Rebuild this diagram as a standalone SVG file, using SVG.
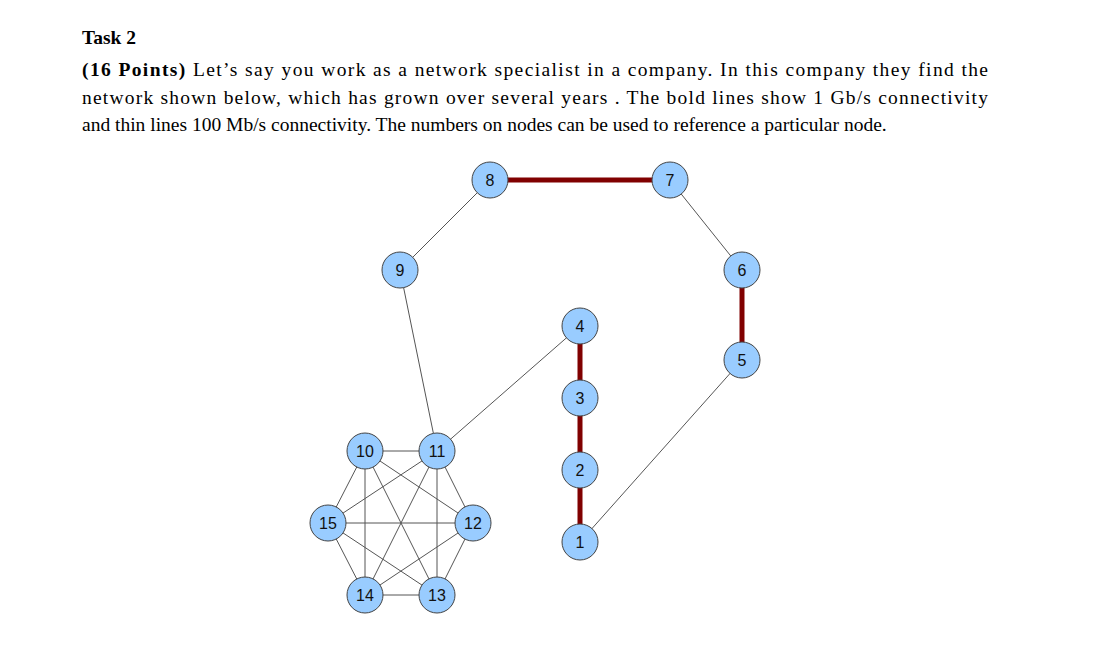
<svg xmlns="http://www.w3.org/2000/svg" width="1093" height="656" viewBox="0 0 1093 656">
<style>
.t{font-family:"Liberation Serif",serif;font-size:19.5px;fill:#000}
.n circle{fill:#99ccff;stroke:#444;stroke-width:1}
.n text{font-family:"Liberation Sans",Arial,sans-serif;font-size:16px;text-anchor:middle;dominant-baseline:central;fill:#111}
.thin{stroke:#555;stroke-width:1;fill:none}
.bold{stroke:#800000;stroke-width:5;fill:none}
</style>
<rect width="1093" height="656" fill="#fff"/>
<text class="t" x="82" y="44" font-weight="bold" font-size="21px">Task 2</text>
<text class="t" x="82" y="76" textLength="906" lengthAdjust="spacing"><tspan font-weight="bold">(16 Points)</tspan> Let’s say you work as a network specialist in a company.  In this company they find the</text>
<text class="t" x="82" y="104" textLength="906" lengthAdjust="spacing">network shown below, which has grown over several years .  The bold lines show 1 Gb/s connectivity</text>
<text class="t" x="82" y="131">and thin lines 100 Mb/s connectivity. The numbers on nodes can be used to reference a particular node.</text>
<g id="connectors">
<line class="thin" x1="490" y1="180" x2="400" y2="270"/>
<line class="thin" x1="400" y1="270" x2="437" y2="451"/>
<line class="thin" x1="437" y1="451" x2="580" y2="326"/>
<line class="thin" x1="670" y1="180" x2="742" y2="270"/>
<line class="thin" x1="580" y1="542" x2="742" y2="360"/>
<line class="bold" x1="490" y1="180" x2="670" y2="180"/>
<line class="bold" x1="742" y1="270" x2="742" y2="360"/>
<line class="bold" x1="580" y1="326" x2="580" y2="542"/>
<line class="thin" x1="365" y1="451" x2="437" y2="451"/>
<line class="thin" x1="437" y1="451" x2="473" y2="523"/>
<line class="thin" x1="473" y1="523" x2="437" y2="595"/>
<line class="thin" x1="437" y1="595" x2="365" y2="595"/>
<line class="thin" x1="365" y1="595" x2="328" y2="523"/>
<line class="thin" x1="328" y1="523" x2="365" y2="451"/>
<line class="thin" x1="365" y1="451" x2="365" y2="595"/>
<line class="thin" x1="437" y1="451" x2="437" y2="595"/>
<line class="thin" x1="328" y1="523" x2="473" y2="523"/>
<line class="thin" x1="365" y1="451" x2="473" y2="523"/>
<line class="thin" x1="365" y1="451" x2="437" y2="595"/>
<line class="thin" x1="437" y1="451" x2="328" y2="523"/>
<line class="thin" x1="437" y1="451" x2="365" y2="595"/>
<line class="thin" x1="328" y1="523" x2="437" y2="595"/>
<line class="thin" x1="365" y1="595" x2="473" y2="523"/>
</g>
<g id="n8" class="n"><circle cx="490" cy="180" r="18"/><text x="490" y="180">8</text></g>
<g id="n7" class="n"><circle cx="670" cy="180" r="18"/><text x="670" y="180">7</text></g>
<g id="n9" class="n"><circle cx="400" cy="270" r="18"/><text x="400" y="270">9</text></g>
<g id="n6" class="n"><circle cx="742" cy="270" r="18"/><text x="742" y="270">6</text></g>
<g id="n4" class="n"><circle cx="580" cy="326" r="18"/><text x="580" y="326">4</text></g>
<g id="n5" class="n"><circle cx="742" cy="360" r="18"/><text x="742" y="360">5</text></g>
<g id="n3" class="n"><circle cx="580" cy="398" r="18"/><text x="580" y="398">3</text></g>
<g id="n2" class="n"><circle cx="580" cy="470" r="18"/><text x="580" y="470">2</text></g>
<g id="n1" class="n"><circle cx="580" cy="542" r="18"/><text x="580" y="542">1</text></g>
<g id="n10" class="n"><circle cx="365" cy="451" r="18"/><text x="365" y="451">10</text></g>
<g id="n11" class="n"><circle cx="437" cy="451" r="18"/><text x="437" y="451">11</text></g>
<g id="n15" class="n"><circle cx="328" cy="523" r="18"/><text x="328" y="523">15</text></g>
<g id="n12" class="n"><circle cx="473" cy="523" r="18"/><text x="473" y="523">12</text></g>
<g id="n14" class="n"><circle cx="365" cy="595" r="18"/><text x="365" y="595">14</text></g>
<g id="n13" class="n"><circle cx="437" cy="595" r="18"/><text x="437" y="595">13</text></g>
</svg>
